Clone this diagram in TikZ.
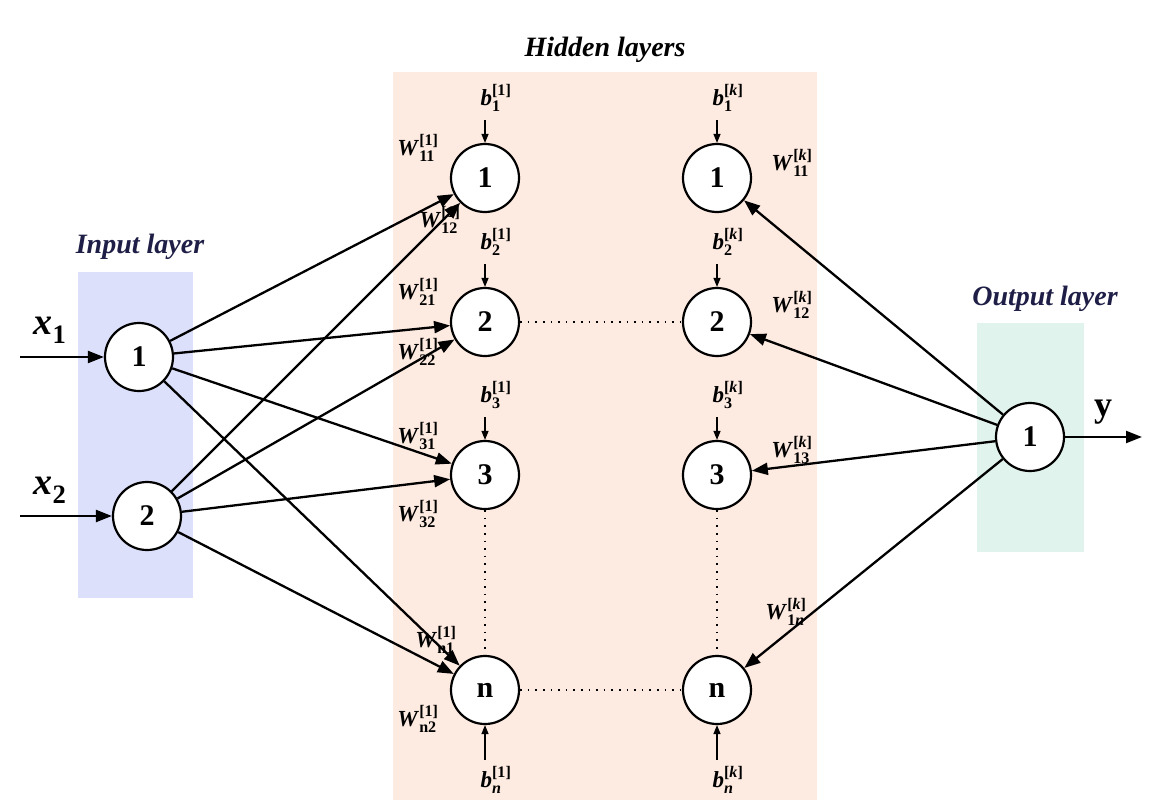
\documentclass[tikz,border=0pt]{standalone}
\usepackage{amsmath}
\usepackage{fontspec}
\setmainfont{Liberation Serif}
\usetikzlibrary{arrows.meta}
\definecolor{cin}{RGB}{220,224,250}
\definecolor{chid}{RGB}{253,234,224}
\definecolor{cout}{RGB}{224,243,237}
\definecolor{ctt}{RGB}{30,30,70}
\newcommand{\bi}[1]{\textbf{\textit{#1}}}
\newcommand{\bo}[1]{\textbf{#1}}
\begin{document}
\begin{tikzpicture}[x=1pt,y=-1pt,
  neu/.style={circle,draw,line width=2.2pt,fill=white,minimum size=68pt,inner sep=0,font=\fontsize{30}{34}\selectfont\bfseries},
  con/.style={line width=2.3pt,-{Triangle[length=16pt,width=12pt]}},
  bia/.style={line width=1.2pt,-{Triangle[length=9pt,width=7pt]}},
  dot/.style={line width=1.6pt,dash pattern=on 1.6pt off 6pt},
  ttl/.style={font=\fontsize{28}{32}\selectfont\bfseries\itshape,text=ctt},
  lab/.style={font=\fontsize{23}{26}\selectfont,inner sep=1pt}]
\useasboundingbox (0,0) rectangle (1162,808);
\fill[cin] (78,272) rectangle (193,598);
\fill[chid] (393,72) rectangle (817,800);
\fill[cout] (977,323) rectangle (1084,552);
\node[ttl] (ti) at (140,247) {Input layer};
\node[ttl,text=black] (th) at (605,50) {Hidden layers};
\node[ttl] (to) at (1045,299) {Output layer};
\node[neu] (i1) at (139,357) {1};
\node[neu] (i2) at (147,516) {2};
\foreach \n/\y/\t in {1/178/1,2/322/2,3/475/3,4/690/n}{
  \node[neu] (a\n) at (485,\y) {\t};
  \node[neu] (b\n) at (717,\y) {\t};
}
\node[neu] (o) at (1030,437) {1};
\coordinate (x1) at (20,357); \coordinate (x2) at (20,516); \coordinate (yy) at (1142,437);
\draw[con] (x1) -- (i1); \draw[con] (x2) -- (i2); \draw[con] (o) -- (yy);
\node[font=\fontsize{38}{42}\selectfont] (lx1) at (50,330) {$\bi{x}_{\bo{1}}$};
\node[font=\fontsize{38}{42}\selectfont] (lx2) at (50,490) {$\bi{x}_{\bo{2}}$};
\node[font=\fontsize{36}{40}\selectfont\bfseries] (ly) at (1103,412) {y};
\foreach \i in {i1,i2}{\foreach \n in {1,2,3,4}{\draw[con] (\i) -- (a\n);}}
\foreach \n in {1,2,3,4}{\draw[con] (o) -- (b\n);}
% biases
\foreach \n/\y/\s in {1/98/1,2/242/2,3/395/3}{
  \node[lab] (ba\n) at (496,\y) {$\bi{b}^{\bo{[1]}}_{\bo{\s}}$};
  \node[lab] (bb\n) at (728,\y) {$\bi{b}^{\bo{[\bi{k}]}}_{\bo{\s}}$};
  \coordinate (ca\n) at (485,\y+22); \coordinate (cb\n) at (717,\y+22);
  \draw[bia] (ca\n) -- (a\n); \draw[bia] (cb\n) -- (b\n);
}
\node[lab] (ba4) at (496,780) {$\bi{b}^{\bo{[1]}}_{\bi{n}}$};
\node[lab] (bb4) at (728,780) {$\bi{b}^{\bo{[\bi{k}]}}_{\bi{n}}$};
\coordinate (ca4) at (485,760); \coordinate (cb4) at (717,760);
\draw[bia] (ca4) -- (a4); \draw[bia] (cb4) -- (b4);
% dotted
\draw[dot] (a2) -- (b2); \draw[dot] (a4) -- (b4);
\draw[dot] (a3) -- (a4); \draw[dot] (b3) -- (b4);
% weights
\node[lab] (w11) at (418,148) {$\bi{W}^{\bo{[1]}}_{\bo{11}}$};
\node[lab] (w12) at (440,220) {$\bi{W}^{\bo{[1]}}_{\bo{12}}$};
\node[lab] (w21) at (418,292) {$\bi{W}^{\bo{[1]}}_{\bo{21}}$};
\node[lab] (w22) at (418,352) {$\bi{W}^{\bo{[1]}}_{\bo{22}}$};
\node[lab] (w31) at (418,436) {$\bi{W}^{\bo{[1]}}_{\bo{31}}$};
\node[lab] (w32) at (418,514) {$\bi{W}^{\bo{[1]}}_{\bo{32}}$};
\node[lab] (wn1) at (436,640) {$\bi{W}^{\bo{[1]}}_{\bo{n1}}$};
\node[lab] (wn2) at (418,719) {$\bi{W}^{\bo{[1]}}_{\bo{n2}}$};
\node[lab] (v11) at (792,163) {$\bi{W}^{\bo{[\bi{k}]}}_{\bo{11}}$};
\node[lab] (v12) at (792,305) {$\bi{W}^{\bo{[\bi{k}]}}_{\bo{12}}$};
\node[lab] (v13) at (792,450) {$\bi{W}^{\bo{[\bi{k}]}}_{\bo{13}}$};
\node[lab] (v1n) at (786,612) {$\bi{W}^{\bo{[\bi{k}]}}_{\bo{1}\bi{n}}$};
\end{tikzpicture}
\end{document}
